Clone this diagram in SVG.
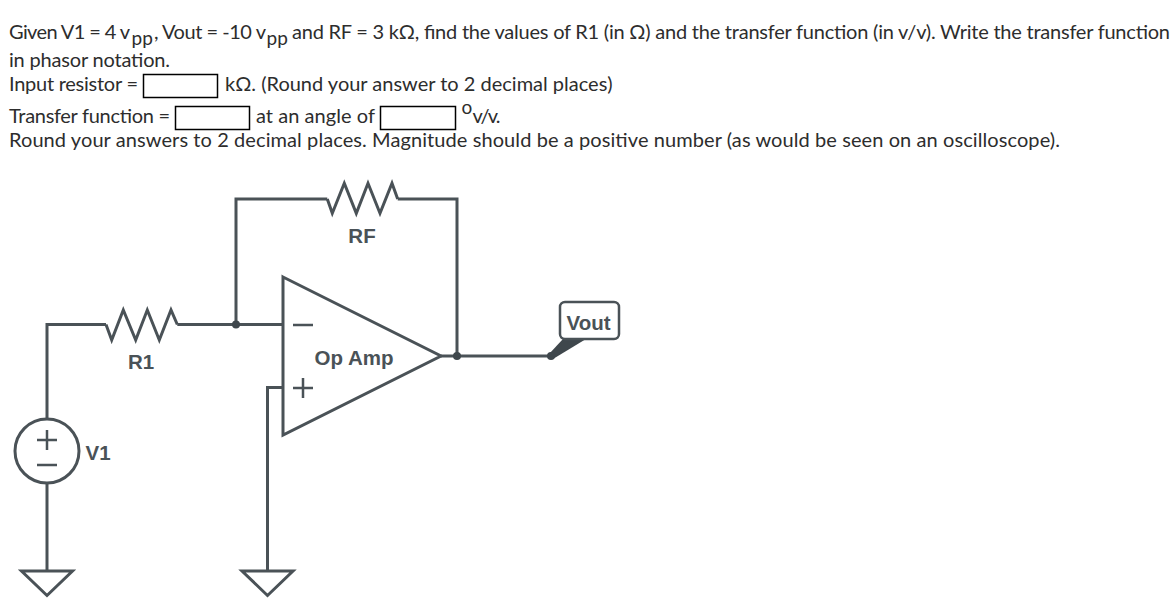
<svg xmlns="http://www.w3.org/2000/svg" width="1176" height="609" viewBox="0 0 1176 609">
<style>
.t{font-family:Lato,"Liberation Sans",sans-serif;font-size:20px;fill:#2d2d2d}
.u{font-family:Lato,"Liberation Sans",sans-serif;font-size:19px;fill:#2d2d2d}
.l{font-family:"Liberation Sans",Arial,sans-serif;font-size:20.500px;font-weight:bold;fill:#4a5257;text-anchor:middle}
.w{fill:none;stroke:#4a5257;stroke-width:3;stroke-linejoin:miter}
.s{fill:none;stroke:#4a5257;stroke-width:2.500}
.b{fill:#fff;stroke:#000;stroke-width:1.500}
.d{fill:#3f474c}
</style>
<rect width="1176" height="609" fill="#fff"/>
<g id="question">
<text class="t" x="9" y="39" textLength="121">Given V1 = 4 v</text>
<text class="u" x="131.500" y="45">pp</text>
<text class="t" x="154" y="39" textLength="112">, Vout = -10 v</text>
<text class="u" x="266.500" y="45">pp</text>
<text class="t" x="292" y="39" textLength="878">and RF = 3 kΩ, find the values of R1 (in Ω)  and the transfer function (in v/v). Write the transfer function</text>
<text class="t" x="9" y="67" textLength="161">in phasor notation.</text>
<text class="t" x="9" y="91" textLength="129">Input resistor =</text>
<rect class="b" x="143.500" y="74.500" width="74" height="23"/>
<text class="t" x="225" y="91">kΩ. (Round your answer to 2 decimal places)</text>
<text class="t" x="9" y="123" textLength="161">Transfer function =</text>
<rect class="b" x="175.500" y="106.500" width="74" height="23"/>
<text class="t" x="256" y="123" textLength="119">at an angle of</text>
<rect class="b" x="380.500" y="106.500" width="75" height="23"/>
<text class="u" x="461.500" y="113.500">o</text>
<text class="t" x="472.500" y="123" textLength="28">v/v.</text>
<text class="t" x="9" y="147" textLength="1051">Round your answers to 2 decimal places. Magnitude should be a positive number (as would be seen on an oscilloscope).</text>
</g>
<g id="connectors">
<path class="w" d="M47 418V324.500H106"/>
<path class="w" d="M177.300 324.500H283"/>
<path class="w" d="M236 324.500V199H327.300"/>
<path class="w" d="M397.700 199H457V356"/>
<path class="w" d="M441 356H551"/>
<path class="w" d="M283 387.500H267.500V571"/>
<path class="w" d="M47 483V571"/>
</g>
<g id="R1">
<path class="w" d="M106 324.500L111.700 340L123.300 310L135.700 340L147.300 310L159.300 340L171 310L177.300 324.500"/>
<text class="l" x="141" y="369">R1</text>
</g>
<g id="RF">
<path class="w" d="M327.300 199L332.300 213.300L344.300 183.300L356.300 213.300L368 183.300L380 213.300L392 183.300L397.700 199"/>
<text class="l" x="362" y="243">RF</text>
</g>
<g id="opamp">
<path class="w" d="M283 277L441 356L283 435Z"/>
<path class="s" d="M293 325H313M303 378V398M293 388H313"/>
<text class="l" x="354" y="365">Op Amp</text>
</g>
<g id="V1">
<circle class="w" cx="47" cy="451" r="32"/>
<path class="s" d="M37 440H57M47 430V450M37 465H57"/>
<text class="l" x="98" y="460">V1</text>
</g>
<g id="gnd1"><path class="w" d="M21.500 571H72.500L47 595.500Z"/></g>
<g id="gnd2"><path class="w" d="M242 571H293L267.500 595.500Z"/></g>
<g id="junctions">
<circle class="d" cx="236" cy="324.500" r="4"/>
<circle class="d" cx="457" cy="356" r="4"/>
</g>
<g id="Vout">
<circle class="d" cx="551" cy="356" r="4"/>
<path class="d" d="M549 354L563 339H586L553 359Z"/>
<rect x="560" y="302" width="59" height="37" rx="5" fill="#fff" stroke="#4a5257" stroke-width="2.500"/>
<text class="l" x="588.500" y="330">Vout</text>
</g>
</svg>
